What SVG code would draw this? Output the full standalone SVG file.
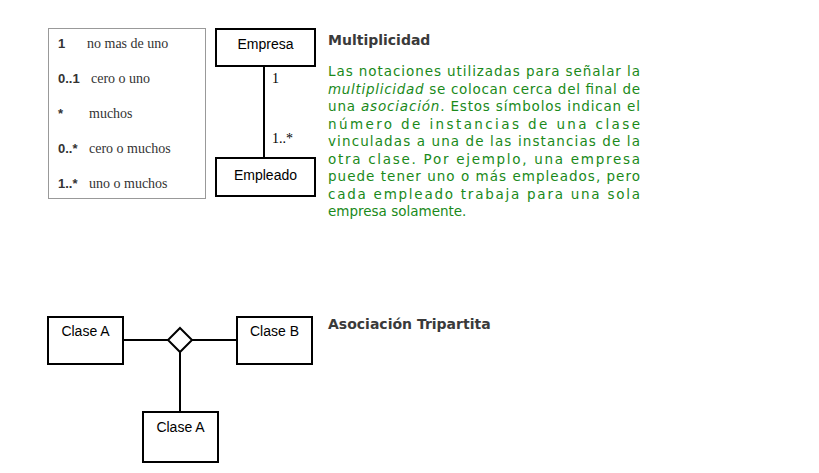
<svg xmlns="http://www.w3.org/2000/svg" width="819" height="473" viewBox="0 0 819 473">
<style>
.box{fill:#fff;stroke:#000;stroke-width:2}
.sans{font-family:"Liberation Sans",Arial,sans-serif;font-size:14px;fill:#000}
.ser{font-family:"Liberation Serif","Times New Roman",serif;font-size:14px;fill:#333}
.b{font-family:"Liberation Sans",Arial,sans-serif;font-size:13px;font-weight:bold;fill:#333}
.p{font-family:"DejaVu Sans",Verdana,sans-serif;font-size:13.5px;fill:#1a8a1a}
.h{font-family:"DejaVu Sans",Verdana,sans-serif;font-size:14px;font-weight:bold;fill:#3a3a3a}
.ln{stroke:#000;stroke-width:2;fill:none}
</style>
<g id="legend">
<rect x="48.5" y="28.5" width="157" height="170" fill="#fff" stroke="#999"/>
<text class="b" x="58" y="48">1</text><text class="ser" x="87" y="48">no mas de uno</text>
<text class="b" x="58" y="83">0..1</text><text class="ser" x="91" y="83">cero o uno</text>
<text class="b" x="58" y="118">*</text><text class="ser" x="89" y="118">muchos</text>
<text class="b" x="58" y="153">0..*</text><text class="ser" x="89" y="153">cero o muchos</text>
<text class="b" x="58" y="188">1..*</text><text class="ser" x="89" y="188">uno o muchos</text>
</g>
<g id="connectors">
<line class="ln" x1="264" y1="66" x2="264" y2="158"/>
<line class="ln" x1="123" y1="340" x2="168" y2="340"/>
<line class="ln" x1="192" y1="340" x2="237" y2="340"/>
<line class="ln" x1="180" y1="352" x2="180" y2="412"/>
</g>
<text class="ser" x="272" y="83" fill="#000" style="fill:#000">1</text>
<text class="ser" x="272" y="143" style="fill:#000">1..*</text>
<g id="empresa"><rect class="box" x="216" y="29" width="99" height="37"/><text class="sans" x="265.5" y="49" text-anchor="middle">Empresa</text></g>
<g id="empleado"><rect class="box" x="216" y="158" width="99" height="38"/><text class="sans" x="265.5" y="180" text-anchor="middle">Empleado</text></g>
<g id="claseA1"><rect class="box" x="48" y="317" width="75" height="47"/><text class="sans" x="85.5" y="336" text-anchor="middle">Clase A</text></g>
<g id="claseB"><rect class="box" x="237" y="317" width="75" height="47"/><text class="sans" x="274.5" y="336" text-anchor="middle">Clase B</text></g>
<g id="claseA2"><rect class="box" x="143" y="412" width="75" height="50"/><text class="sans" x="180.5" y="432" text-anchor="middle">Clase A</text></g>
<g id="diamond"><polygon class="ln" points="180,328 192,340 180,352 168,340" fill="#fff" style="fill:#fff"/></g>
<g id="texts">
<text class="h" x="328" y="45">Multiplicidad</text>
<text class="p" x="328" y="76" textLength="312" lengthAdjust="spacing">Las notaciones utilizadas para señalar la</text>
<text class="p" x="328" y="94" textLength="312" lengthAdjust="spacing"><tspan font-style="italic">multiplicidad</tspan> se colocan cerca del final de</text>
<text class="p" x="328" y="111" textLength="312" lengthAdjust="spacing">una <tspan font-style="italic">asociación</tspan>. Estos símbolos indican el</text>
<text class="p" x="328" y="129" textLength="312" lengthAdjust="spacing">número de instancias de una clase</text>
<text class="p" x="328" y="146" textLength="312" lengthAdjust="spacing">vinculadas a una de las instancias de la</text>
<text class="p" x="328" y="164" textLength="312" lengthAdjust="spacing">otra clase. Por ejemplo, una empresa</text>
<text class="p" x="328" y="181" textLength="312" lengthAdjust="spacing">puede tener uno o más empleados, pero</text>
<text class="p" x="328" y="199" textLength="312" lengthAdjust="spacing">cada empleado trabaja para una sola</text>
<text class="p" x="328" y="216">empresa solamente.</text>
<text class="h" x="328" y="329">Asociación Tripartita</text>
</g>
</svg>
